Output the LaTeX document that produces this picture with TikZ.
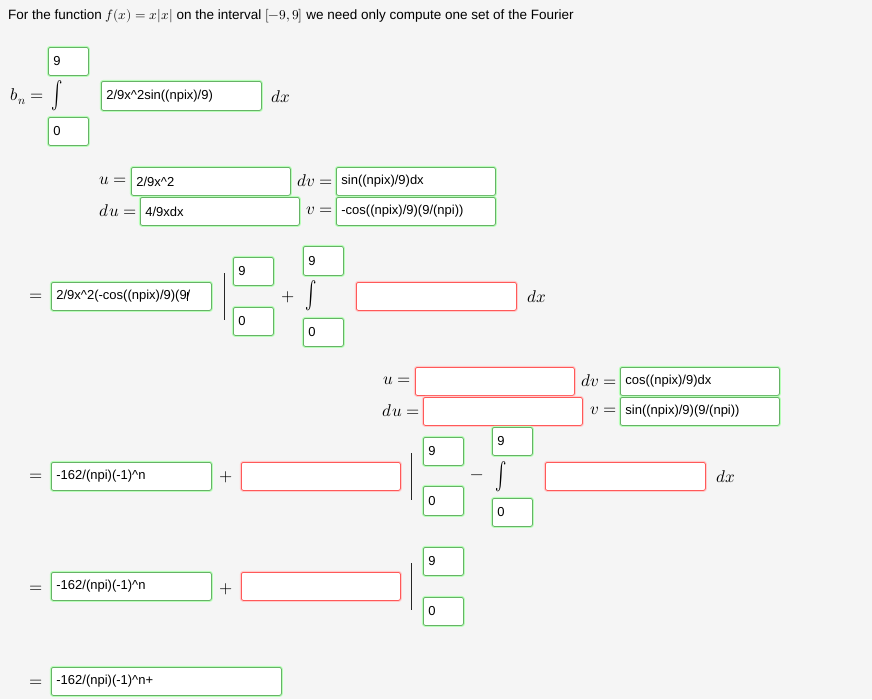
\documentclass[tikz,border=0pt]{standalone}
\usepackage{unicode-math}
\setmainfont{Liberation Sans}
\setmathfont{Latin Modern Math}
\begin{document}
\begin{tikzpicture}[x=1pt,y=-1pt,
  gb/.style={draw=green!50!black!60, rounded corners=2pt, fill=white, line width=0.8pt, preaction={draw=green!35!white!80, line width=3pt}},
  rb/.style={draw=red!65!white, rounded corners=2pt, fill=white, line width=0.8pt, preaction={draw=red!20!white, line width=3pt}},
  mt/.style={font=\fontsize{17}{19}\selectfont, inner sep=0pt},
  bar/.style={line width=0.9pt, draw=black!85}]
\newcommand\mkbox[7]{\node[#2, anchor=north west, inner xsep=5pt, inner ysep=0pt, text width={(#5-#3-10)*1pt}, minimum height={(#6-#4)*1pt}, align=left, font=\fontsize{13}{15}\selectfont] (#1) at (#3,#4) {\raisebox{-2pt}{#7}};}
\newcommand\intg[3]{\node[mt] (#1) at (#2,#3) {\scalebox{1}[1.6]{$\int$}};}
\fill[black!4] (0,0) rectangle (872,699);
\useasboundingbox (0,0) rectangle (872,699);
\node[anchor=west, font=\fontsize{13.5}{15}\selectfont, inner sep=0pt] (title) at (8,16) {For the function $f(x)=x|x|$ on the interval $[-9,9]$ we need only compute one set of the Fourier};
% row 1
\node[mt, anchor=east] (bn) at (44,97) {$b_n =$};
\mkbox{a9}{gb}{48}{47}{88}{75}{9}
\intg{ai}{57}{96}
\mkbox{a0}{gb}{48}{117}{88}{145}{0}
\mkbox{ab}{gb}{101}{81}{261}{110}{2/9x\textasciicircum 2sin((npix)/9)}
\node[mt, anchor=west] (adx) at (271,97) {$dx$};
% row 2
\node[mt, anchor=east] (u1) at (127,181) {$u =$};
\mkbox{u1b}{gb}{131}{167}{290}{195}{2/9x\textasciicircum 2}
\node[mt, anchor=east] (dv1) at (333,181) {$dv =$};
\mkbox{dv1b}{gb}{336}{167}{495}{195}{sin((npix)/9)dx}
\node[mt, anchor=east] (du1) at (137,211) {$du =$};
\mkbox{du1b}{gb}{140}{197}{299}{225}{4/9xdx}
\node[mt, anchor=east] (v1) at (333,211) {$v =$};
\mkbox{v1b}{gb}{336}{197}{495}{225}{-cos((npix)/9)(9/(npi))}
% row 3
\node[mt] (e3) at (36,297) {$=$};
\mkbox{c1}{gb}{51}{282}{211}{310}{2/9x\textasciicircum 2(-cos((npix)/9)(9/\hspace{-3pt}\vrule height 8pt depth 1pt width 0.3pt}
\coordinate (c3t) at (224,273); \coordinate (c3b) at (224,320);
\draw[bar] (c3t) -- (c3b);
\mkbox{c9}{gb}{233}{257}{273}{285}{9}
\mkbox{c0}{gb}{233}{307}{273}{335}{0}
\node[mt] (cp) at (288,297) {$+$};
\mkbox{ci9}{gb}{303}{246}{343}{275}{9}
\intg{ci}{311}{296}
\mkbox{ci0}{gb}{303}{318}{343}{346}{0}
\mkbox{cr}{rb}{356}{282}{516}{310}{}
\node[mt, anchor=west] (cdx) at (527,297) {$dx$};
% row 4
\node[mt, anchor=east] (u2) at (411,381) {$u =$};
\mkbox{u2b}{rb}{415}{367}{574}{395}{}
\node[mt, anchor=east] (dv2) at (617,381) {$dv =$};
\mkbox{dv2b}{gb}{620}{367}{779}{395}{cos((npix)/9)dx}
\node[mt, anchor=east] (du2) at (420,411) {$du =$};
\mkbox{du2b}{rb}{423}{397}{582}{425}{}
\node[mt, anchor=east] (v2) at (617,411) {$v =$};
\mkbox{v2b}{gb}{620}{397}{779}{425}{sin((npix)/9)(9/(npi))}
% row 5
\node[mt] (e5) at (36,477) {$=$};
\mkbox{d1}{gb}{51}{462}{211}{490}{-162/(npi)(-1)\textasciicircum n}
\node[mt] (dp) at (226,477) {$+$};
\mkbox{d2}{rb}{241}{462}{400}{490}{}
\coordinate (d3t) at (411,453); \coordinate (d3b) at (411,500);
\draw[bar] (d3t) -- (d3b);
\mkbox{d9}{gb}{423}{437}{463}{465}{9}
\mkbox{d0}{gb}{423}{486}{463}{515}{0}
\node[mt] (dm) at (477,477) {$-$};
\mkbox{di9}{gb}{492}{427}{532}{455}{9}
\intg{di}{501}{477}
\mkbox{di0}{gb}{492}{498}{532}{526}{0}
\mkbox{dr}{rb}{545}{462}{705}{490}{}
\node[mt, anchor=west] (ddx) at (716,477) {$dx$};
% row 6
\node[mt] (e6) at (36,589) {$=$};
\mkbox{f1}{gb}{51}{572}{211}{600}{-162/(npi)(-1)\textasciicircum n}
\node[mt] (fp) at (226,589) {$+$};
\mkbox{f2}{rb}{241}{572}{400}{600}{}
\coordinate (f3t) at (411,563); \coordinate (f3b) at (411,610);
\draw[bar] (f3t) -- (f3b);
\mkbox{f9}{gb}{423}{547}{463}{575}{9}
\mkbox{f0}{gb}{423}{597}{463}{625}{0}
% row 7
\node[mt] (e7) at (36,683) {$=$};
\mkbox{g1}{gb}{51}{667}{281}{695}{-162/(npi)(-1)\textasciicircum n+}
\end{tikzpicture}
\end{document}
